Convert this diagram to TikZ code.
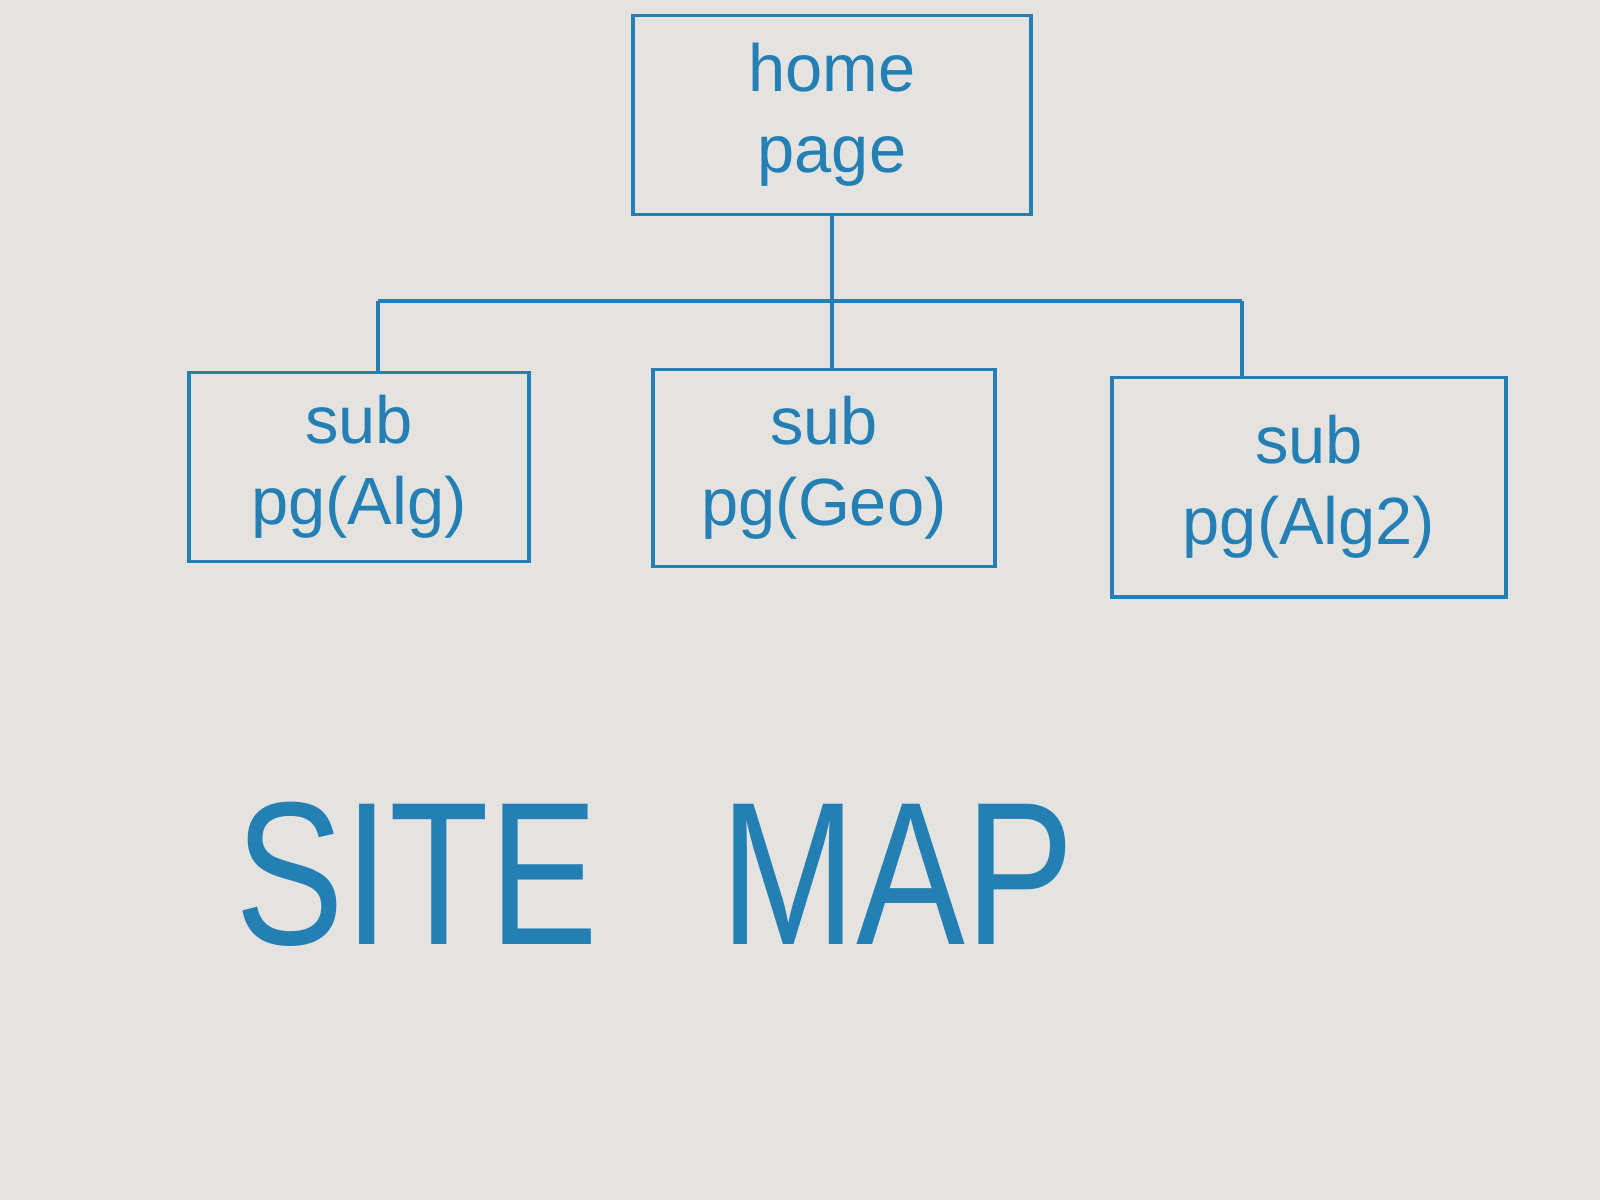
\documentclass[tikz,border=0pt]{standalone}
\usepackage{fontspec}
\setmainfont{Liberation Sans}
\usepackage{tikz}
\usetikzlibrary{positioning}
\definecolor{ink}{RGB}{36,128,180}
\definecolor{paper}{RGB}{229,227,223}
\tikzset{every node/.style={font=\fontsize{19}{23}\selectfont, text=ink},
  pagebox/.style={draw=ink, line width=1.1pt, align=center, inner sep=0pt},
  link/.style={draw=ink, line width=1pt}}

\begin{document}
\begin{tikzpicture}[x=0.01cm, y=-0.01cm]
  \fill[paper] (0,0) rectangle (1600,1200);
  % pages
  \node[pagebox, minimum width=3.98cm, minimum height=1.99cm] (home) at (832,115) {home\\page};
  \node[pagebox, minimum width=3.40cm, minimum height=1.89cm] (algpage) at (359,467) {sub\\pg(Alg)};
  \node[pagebox, minimum width=3.42cm, minimum height=1.97cm] (geopage) at (824,468) {sub\\pg(Geo)};
  \node[pagebox, minimum width=3.93cm, minimum height=2.19cm] (alg2page) at (1309,487) {sub\\pg(Alg2)};
  % links
  \coordinate (busL) at (378,301);
  \coordinate (busR) at (1242,301);
  \draw[link] (busL) -- (busR);
  \draw[link] (home.south) -- (geopage.north -| home.south);
  \draw[link] (busL) -- (busL |- algpage.north);
  \draw[link] (busR) -- (busR |- alg2page.north);
  \node[font=\fontsize{58}{64}\selectfont, transform shape, xscale=0.8] (title) at (655,874) {SITE\hspace{0.75em}MAP};
\end{tikzpicture}
\end{document}
